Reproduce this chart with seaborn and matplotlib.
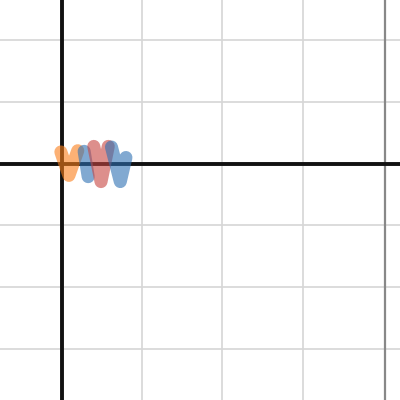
import numpy as np
import pandas as pd
import matplotlib
matplotlib.use("Agg")
import matplotlib.pyplot as plt
import seaborn as sns

# stroke points in graph units (grid spacing = 1)
orange_x = [-0.01, 0.09, 0.20]
orange_y = [0.19, -0.19, 0.21]

blue1_x = [0.28, 0.33]
blue1_y = [0.20, -0.21]

red_x = [0.40, 0.49, 0.58]
red_y = [0.28, -0.29, 0.28]

blue2_x = [0.62, 0.73, 0.80]
blue2_y = [0.27, -0.29, 0.10]

x_grid = [1, 2, 3]
y_grid = [-3, -2, -1, 1, 2]
edge_line = 4.03

sns.set_style("white")

fig, ax = plt.subplots(figsize=(4, 4), dpi=100)
fig.subplots_adjust(left=0, right=1, bottom=0, top=1)

for gx in x_grid:
    ax.axvline(gx, color="#d6d6d6", lw=1.2, zorder=0)
for gy in y_grid:
    ax.axhline(gy, color="#d6d6d6", lw=1.2, zorder=0)
ax.axvline(edge_line, color="#888888", lw=1.6, zorder=1)

ax.axhline(0, color="#111111", lw=2.8, zorder=2)
ax.axvline(0, color="#111111", lw=2.8, zorder=2)

strokes = [
    (orange_x, orange_y, "#fa7e19"),
    (blue1_x, blue1_y, "#2d70b3"),
    (red_x, red_y, "#c74440"),
    (blue2_x, blue2_y, "#2d70b3"),
]
for xs, ys, col in strokes:
    sns.lineplot(x=xs, y=ys, sort=False, color=col, linewidth=9.4, alpha=0.6,
                 solid_capstyle="round", solid_joinstyle="round", ax=ax, zorder=3)

ax.set_xlim(-0.768, 4.213)
ax.set_ylim(-3.83, 2.653)
ax.set_xticks([])
ax.set_yticks([])
for s in ax.spines.values():
    s.set_visible(False)

fig.savefig("out.png", dpi=100)
